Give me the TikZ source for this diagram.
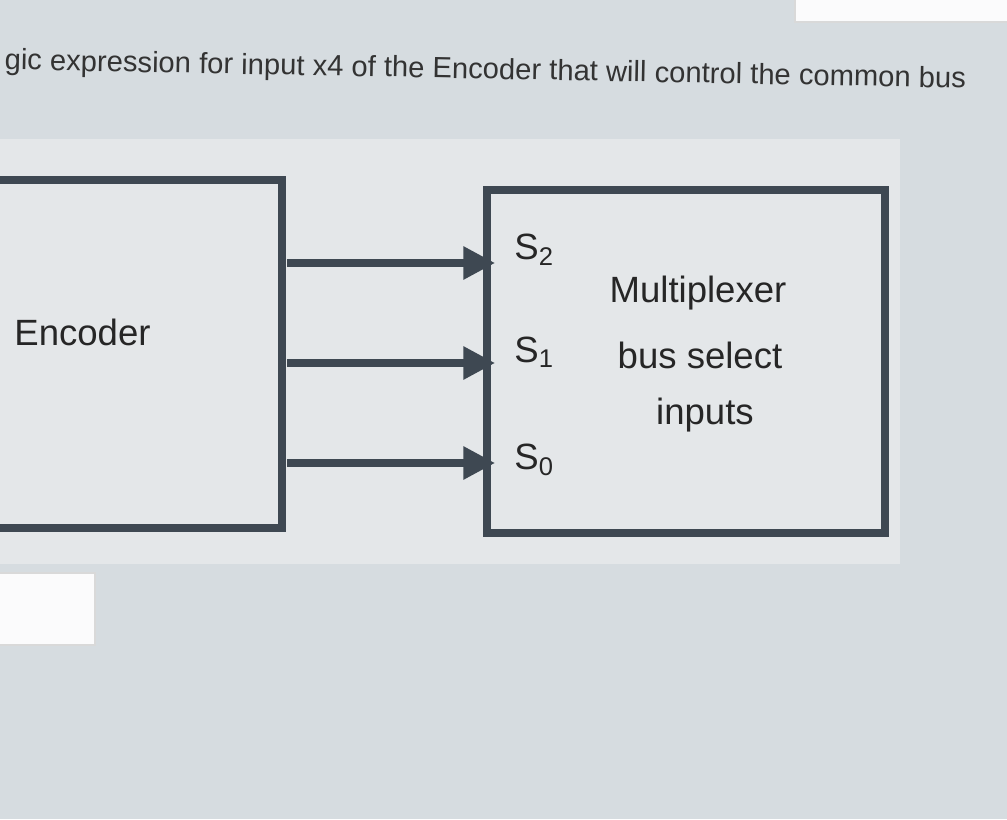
\documentclass[tikz,border=0pt]{standalone}
\usepackage{fontspec}
\setmainfont{Liberation Sans}
\usetikzlibrary{arrows.meta}
\definecolor{screenbg}{RGB}{214,220,224}
\definecolor{panelbg}{RGB}{228,231,233}
\definecolor{boxline}{RGB}{62,72,82}
\tikzset{
  blockbox/.style={draw=boxline, line width=2pt, fill=panelbg},
  busline/.style={-{Triangle[length=9pt,width=9pt]}, line width=2pt, boxline},
  lbl/.style={font=\fontsize{10.4}{12}\selectfont, text=black!85}
}
\begin{document}
\begin{tikzpicture}
    \useasboundingbox (0,0) rectangle (10.07,8.19);
    \fill[screenbg] (0,0) rectangle (10.07,8.19);
    \fill[panelbg] (0,2.55) rectangle (9.0,6.8);
    \draw[draw=black!15, fill=white!90!screenbg] (7.95,7.97) rectangle (10.2,8.3);
    \draw[draw=black!15, fill=white!90!screenbg] (-0.1,1.74) rectangle (0.95,2.46);

    % Header
    \node[anchor=west, font=\fontsize{8.3}{10}\selectfont, text=black!80, rotate=-1.1, inner sep=0pt] (title) at (0.04,7.57)
      {gic expression for input x4 of the Encoder that will control the common bus};

    % Blocks
    \draw[blockbox] (-0.2,6.39) rectangle (2.82,2.91);
    \draw[blockbox] (4.87,6.29) rectangle (8.85,2.86);
    \node[lbl, anchor=west] (enc) at (0.02,4.87) {Encoder};
    \node[lbl] (mux1) at (6.98,5.26) {Multiplexer};
    \node[lbl] (mux2) at (7.0,4.64) {bus select};
    \node[lbl] (mux3) at (7.05,4.04) {inputs};

    % Select inputs
    \node[lbl, anchor=west] (s2) at (5.02,5.69) {S\textsubscript{2}};
    \node[lbl, anchor=west] (s1) at (5.02,4.67) {S\textsubscript{1}};
    \node[lbl, anchor=west] (s0) at (5.02,3.59) {S\textsubscript{0}};
    \coordinate (e2) at (2.87,5.56);
    \coordinate (e1) at (2.87,4.56);
    \coordinate (e0) at (2.87,3.56);
    \coordinate (m2) at (4.95,5.56);
    \coordinate (m1) at (4.95,4.56);
    \coordinate (m0) at (4.95,3.56);
    \draw[busline] (e2) -- (m2);
    \draw[busline] (e1) -- (m1);
    \draw[busline] (e0) -- (m0);
\end{tikzpicture}
\end{document}
